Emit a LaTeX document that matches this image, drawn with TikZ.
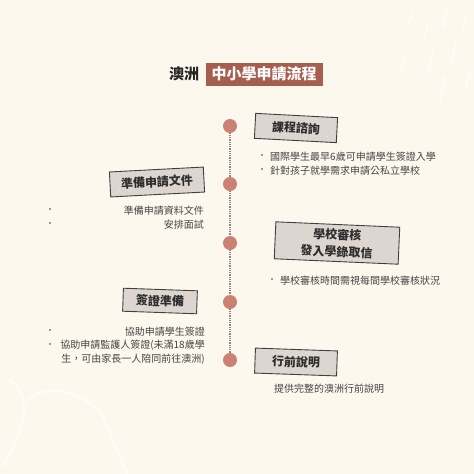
\documentclass[tikz,border=0pt]{standalone}
\usepackage{fontspec}
\setmainfont{Noto Sans CJK TC}
\definecolor{bg}{HTML}{FDF8EE}
\definecolor{dotc}{HTML}{CD8074}
\definecolor{titlebg}{HTML}{A65F4F}
\definecolor{boxbg}{HTML}{DDD6D0}
\definecolor{txt}{HTML}{444444}
\definecolor{boxtxt}{HTML}{2E2E2E}
\definecolor{linec}{HTML}{8A8580}
\tikzset{
  stepdot/.style={circle, fill=dotc, minimum size=14pt, inner sep=0pt},
  stepbox/.style={draw=black!75, line width=0.9pt, fill=boxbg, text=boxtxt,
    font=\fontsize{12}{17}\selectfont\bfseries, align=center, inner sep=2pt,
    path picture={
      \pgfmathsetseed{7}
      \foreach \k in {1,...,14}{
        \fill[white, opacity=0.8] ($(path picture bounding box.south west)!rnd!(path picture bounding box.south east) + (0,{-rnd*40})$) circle (0.45pt);
      }
    }},
  body/.style={font=\fontsize{10}{14}\selectfont, text=txt, inner sep=0pt},
  bul/.style={font=\fontsize{8}{10}\selectfont, text=txt, inner sep=0pt},
  conn/.style={draw=linec, dash pattern=on 0.9pt off 0.9pt, line width=1.1pt},
  deco/.style={draw=white, line width=2.2pt, line cap=round, opacity=0.7},
}
\usetikzlibrary{calc}
\begin{document}
\begin{tikzpicture}[x=1pt,y=-1pt]
\fill[bg] (0,0) rectangle (474,474);
\useasboundingbox (0,0) rectangle (474,474);

% faint decorations
\draw[deco] (412,12) -- (409,24);
\draw[deco] (428,26) -- (424,38);
\draw[deco] (447,10) -- (443,26);
\draw[deco] (466,18) -- (463,30);
\draw[deco] (404,57) -- (401,72);
\draw[deco] (433,50) -- (428,72);
\draw[deco] (456,44) -- (451,62);
\draw[deco] (470,72) -- (466,86);
\draw[deco] (445,78) -- (440,100);
\draw[deco] (10,380) .. controls (30,395) and (30,420) .. (2,468);
\draw[deco] (28,400) .. controls (50,380) and (85,395) .. (100,412) .. controls (110,430) and (115,450) .. (128,474);

% title
\node[font=\fontsize{15}{18}\selectfont\bfseries, text=black!85, inner sep=0pt] (t1) at (184,74) {澳洲};
\node[fill=titlebg, text=white, font=\fontsize{15}{18}\selectfont\bfseries,
  minimum height=23pt, inner xsep=6pt, inner ysep=0pt] (t2) at (264,74) {中小學申請流程};

% timeline dots
\node[stepdot] (d1) at (230,126) {};
\node[stepdot] (d2) at (230,184) {};
\node[stepdot] (d3) at (230,243) {};
\node[stepdot] (d4) at (230,302) {};
\node[stepdot] (d5) at (230,360) {};
\draw[conn] (d1) -- (d2);
\draw[conn] (d2) -- (d3);
\draw[conn] (d3) -- (d4);
\draw[conn] (d4) -- (d5);

% step boxes
\node[stepbox, minimum width=82pt, minimum height=25pt, rotate=-3] (b1) at (296,128) {課程諮詢};
\node[stepbox, minimum width=94pt, minimum height=25pt, rotate=3] (b2) at (157,182) {準備申請文件};
\node[stepbox, minimum width=124pt, minimum height=37pt, rotate=-2.5] (b3) at (337,243) {學校審核\\發入學錄取信};
\node[stepbox, minimum width=74pt, minimum height=23pt, rotate=-2] (b4) at (160,301) {簽證準備};
\node[stepbox, minimum width=82pt, minimum height=25pt, rotate=-2] (b5) at (296,362) {行前說明};

% texts
\node[bul] (p1) at (262,157) {•};
\node[body, anchor=west] (s1) at (270,157) {國際學生最早6歲可申請學生簽證入學};
\node[bul] (p2) at (262,171) {•};
\node[body, anchor=west] (s2) at (270,171) {針對孩子就學需求申請公私立學校};

\node[bul] (p3) at (50,211) {•};
\node[body, anchor=east] (s3) at (204,211) {準備申請資料文件};
\node[bul] (p4) at (50,225) {•};
\node[body, anchor=east] (s4) at (204,225) {安排面試};

\node[bul] (p5) at (272,281) {•};
\node[body, anchor=west] (s5) at (280,281) {學校審核時間需視每間學校審核狀況};

\node[bul] (p6) at (50,332) {•};
\node[body, anchor=east] (s6) at (205,332) {協助申請學生簽證};
\node[bul] (p7) at (50,346) {•};
\node[body, anchor=north east, align=right] (s7) at (205,339.5) {協助申請監護人簽證(未滿18歲學\\生，可由家長一人陪同前往澳洲)};

\node[body] (s8) at (329,389) {提供完整的澳洲行前說明};
\end{tikzpicture}
\end{document}
